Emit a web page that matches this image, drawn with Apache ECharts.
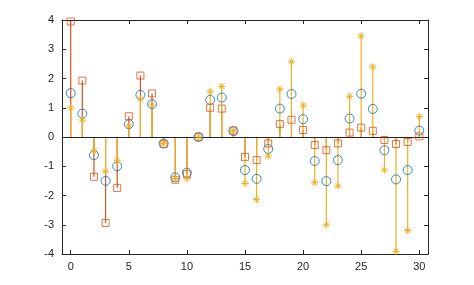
<!DOCTYPE html>
<html>
<head>
<meta charset="utf-8">
<script src="https://cdn.jsdelivr.net/npm/echarts@6/dist/echarts.min.js"></script>
<style>
  html, body { margin: 0; padding: 0; background: #fff; }
  #chart { width: 474px; height: 285px; }
</style>
</head>
<body>
<div id="chart"></div>
<script>
// x positions 0..30
const xValues = [0,1,2,3,4,5,6,7,8,9,10,11,12,13,14,15,16,17,18,19,20,21,22,23,24,25,26,27,28,29,30];
// circle series (markers only)
const circleValues = [1.50, 0.80, -0.62, -1.50, -1.00, 0.44, 1.44, 1.12, -0.22, -1.38, -1.22, 0.00, 1.27, 1.35, 0.20, -1.13, -1.43, -0.41, 0.97, 1.47, 0.61, -0.82, -1.51, -0.79, 0.63, 1.48, 0.96, -0.45, -1.45, -1.13, 0.22];
// square series (stems)
const squareValues = [3.95, 1.93, -1.36, -2.94, -1.74, 0.71, 2.10, 1.49, -0.24, -1.46, -1.27, 0.00, 1.00, 0.97, 0.22, -0.68, -0.79, -0.22, 0.44, 0.59, 0.24, -0.27, -0.45, -0.22, 0.15, 0.32, 0.21, -0.10, -0.24, -0.17, 0.02];
// star series (stems)
const starValues = [0.99, 0.58, -0.47, -1.17, -0.81, 0.38, 1.30, 1.10, -0.22, -1.42, -1.42, 0.00, 1.56, 1.73, 0.22, -1.59, -2.14, -0.65, 1.64, 2.57, 1.09, -1.56, -3.00, -1.68, 1.39, 3.45, 2.40, -1.13, -3.91, -3.20, 0.70];

const xTicks = [0, 5, 10, 15, 20, 25, 30];

const BLUE = '#0072BD';
const ORANGE = '#D95319';
const YELLOW = '#EDB120';
const AXIS = '#262626';

const chart = echarts.init(document.getElementById('chart'));

const pairs = (ys) => xValues.map((x, i) => [x, ys[i]]);

// stem line from baseline 0 to the value
function stemItem(color) {
  return function (params, api) {
    const top = api.coord([api.value(0), api.value(1)]);
    const base = api.coord([api.value(0), 0]);
    return {
      type: 'line',
      shape: { x1: top[0], y1: base[1], x2: top[0], y2: top[1] },
      style: { stroke: color, lineWidth: 1.2 }
    };
  };
}

// MATLAB style '*' marker
function starItem(params, api) {
  const p = api.coord([api.value(0), api.value(1)]);
  const r = 3.6;
  const d = r * 0.72;
  const st = { stroke: YELLOW, lineWidth: 1 };
  return {
    type: 'group',
    children: [
      { type: 'line', shape: { x1: p[0] - r, y1: p[1], x2: p[0] + r, y2: p[1] }, style: st },
      { type: 'line', shape: { x1: p[0], y1: p[1] - r, x2: p[0], y2: p[1] + r }, style: st },
      { type: 'line', shape: { x1: p[0] - d, y1: p[1] - d, x2: p[0] + d, y2: p[1] + d }, style: st },
      { type: 'line', shape: { x1: p[0] - d, y1: p[1] + d, x2: p[0] + d, y2: p[1] - d }, style: st }
    ]
  };
}

const axisCommon = {
  axisLine: { show: true, onZero: false, lineStyle: { color: AXIS, width: 1 } },
  axisTick: { show: true, inside: true, length: 4, lineStyle: { color: AXIS } },
  splitLine: { show: false },
  axisLabel: { color: AXIS, fontSize: 11, fontFamily: 'Liberation Sans, Arial, sans-serif' }
};

const option = {
  animation: false,
  backgroundColor: '#fff',
  grid: { left: 62, right: 46, top: 20, bottom: 31 },
  xAxis: [
    {
      type: 'value', min: -0.75, max: 30.75, position: 'bottom',
      ...axisCommon,
      axisTick: { ...axisCommon.axisTick, customValues: xTicks },
      axisLabel: { ...axisCommon.axisLabel, customValues: xTicks, margin: 7 }
    },
    {
      type: 'value', min: -0.75, max: 30.75, position: 'top',
      ...axisCommon,
      axisTick: { ...axisCommon.axisTick, customValues: xTicks },
      axisLabel: { show: false }
    }
  ],
  yAxis: [
    {
      type: 'value', min: -4, max: 4, interval: 1, position: 'left',
      ...axisCommon,
      axisLabel: { ...axisCommon.axisLabel, margin: 8 }
    },
    {
      type: 'value', min: -4, max: 4, interval: 1, position: 'right',
      ...axisCommon,
      axisLabel: { show: false }
    }
  ],
  series: [
    {
      type: 'custom', name: 'stemOrange', data: pairs(squareValues),
      renderItem: stemItem(ORANGE), z: 2, silent: true,
      markLine: {
        silent: true, symbol: ['none', 'none'], label: { show: false },
        lineStyle: { color: AXIS, width: 1, type: 'solid' },
        data: [{ yAxis: 0 }], z: 5
      }
    },
    { type: 'custom', name: 'stemYellow', data: pairs(starValues), renderItem: stemItem(YELLOW), z: 3, silent: true },
    {
      type: 'scatter', name: 'circles', data: pairs(circleValues),
      symbol: 'circle', symbolSize: 9, z: 6,
      itemStyle: { color: 'rgba(0,0,0,0)', borderColor: BLUE, borderWidth: 1 }
    },
    {
      type: 'scatter', name: 'squares', data: pairs(squareValues),
      symbol: 'rect', symbolSize: 7, z: 7,
      itemStyle: { color: 'rgba(0,0,0,0)', borderColor: ORANGE, borderWidth: 1 }
    },
    { type: 'custom', name: 'stars', data: pairs(starValues), renderItem: starItem, z: 8, silent: true }
  ]
};

chart.setOption(option);
</script>
</body>
</html>
